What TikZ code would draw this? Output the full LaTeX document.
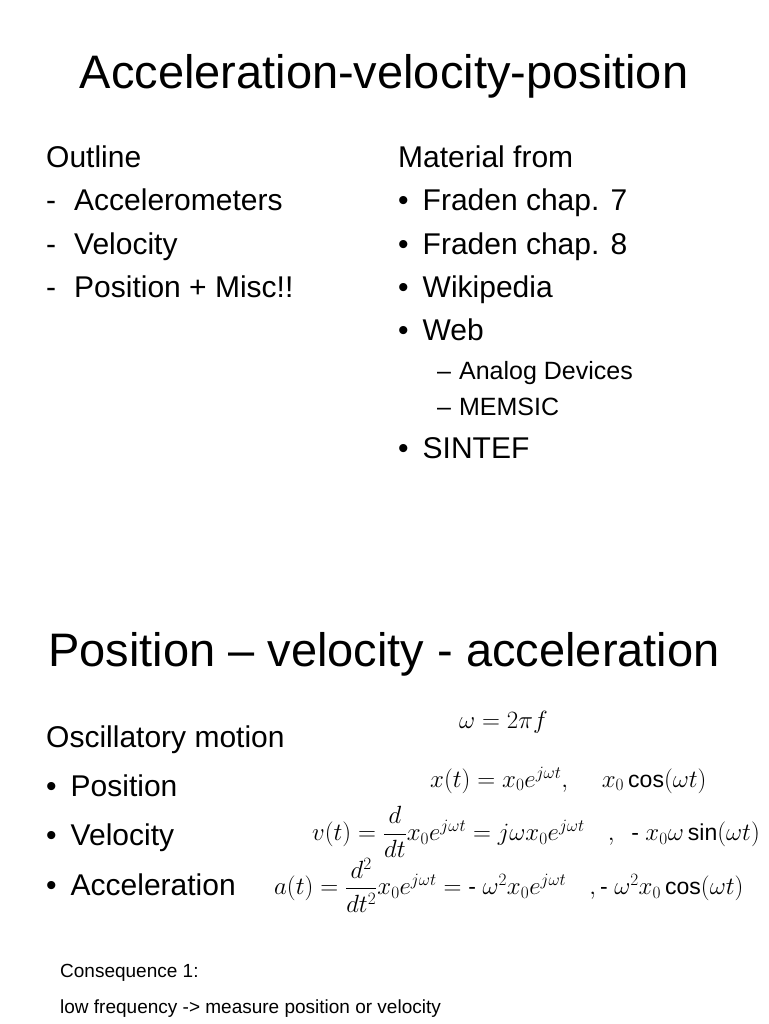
\documentclass[tikz,border=0pt]{standalone}
\usepackage{amsmath}
\usepackage{fontspec}
\setmainfont{Liberation Sans}
\newfontfamily\ser{Liberation Serif}
\begin{document}
\begin{tikzpicture}[x=1pt,y=-1pt,
  t/.style={anchor=base west,inner sep=0pt,font=\fontsize{30}{32}\selectfont},
  s/.style={anchor=base west,inner sep=0pt,font=\fontsize{25}{27}\selectfont},
  eq/.style={anchor=west,inner sep=0pt,font=\fontsize{23}{25}\selectfont},
  c/.style={anchor=base west,inner sep=0pt,font=\fontsize{19}{21}\selectfont},
  h/.style={anchor=base,inner sep=0pt,font=\fontsize{47}{50}\selectfont}]
\useasboundingbox (0,0) rectangle (768,1024);
\node[h] (t1) at (384,89) {Acceleration-velocity-position};
\node[t] (o) at (46,168) {Outline};
\node[t] (o1) at (46,211) {-\hspace{18pt}Accelerometers};
\node[t] (o2) at (46,254) {-\hspace{18pt}Velocity};
\node[t] (o3) at (46,297) {-\hspace{18pt}Position + Misc!!};
\node[t] (m) at (398,168) {Material from};
\node[t] (m1) at (398,211) {•\hspace{14pt}Fraden chap. 7};
\node[t] (m2) at (398,254) {•\hspace{14pt}Fraden chap. 8};
\node[t] (m3) at (398,297) {•\hspace{14pt}Wikipedia};
\node[t] (m4) at (398,340) {•\hspace{14pt}Web};
\node[s] (w1) at (437,379) {–\hspace{8pt}Analog Devices};
\node[s] (w2) at (437,415) {–\hspace{8pt}MEMSIC};
\node[t] (m5) at (398,458) {•\hspace{14pt}SINTEF};
\node[h] (t2) at (384,666) {Position – velocity - acceleration};
\node[t] (os) at (46,747) {Oscillatory motion};
\node[t] (p) at (46,796) {•\hspace{14pt}Position};
\node[t] (v) at (46,845) {•\hspace{14pt}Velocity};
\node[t] (a) at (46,895) {•\hspace{14pt}Acceleration};
\node[eq] (e0) at (459,722) {$\omega = 2\pi f$};
\node[eq] (e1) at (430,780) {$x(t) = x_0 e^{j\omega t},\quad\ x_0\cos(\omega t)$};
\node[eq] (e2) at (312,832) {$v(t) = \dfrac{d}{dt}x_0e^{j\omega t} = j\omega x_0 e^{j\omega t}\quad,\ \ \text{-}\ x_0\omega\sin(\omega t)$};
\node[eq] (e3) at (274,885) {$a(t) = \dfrac{d^2}{dt^2}x_0e^{j\omega t} = \text{-}\ \omega^2 x_0 e^{j\omega t}\quad,\text{-}\ \omega^2 x_0\cos(\omega t)$};
\node[c] (c1) at (60,977) {Consequence 1:};
\node[c] (c2) at (60,1013) {low frequency -> measure position or velocity};
\end{tikzpicture}
\end{document}
